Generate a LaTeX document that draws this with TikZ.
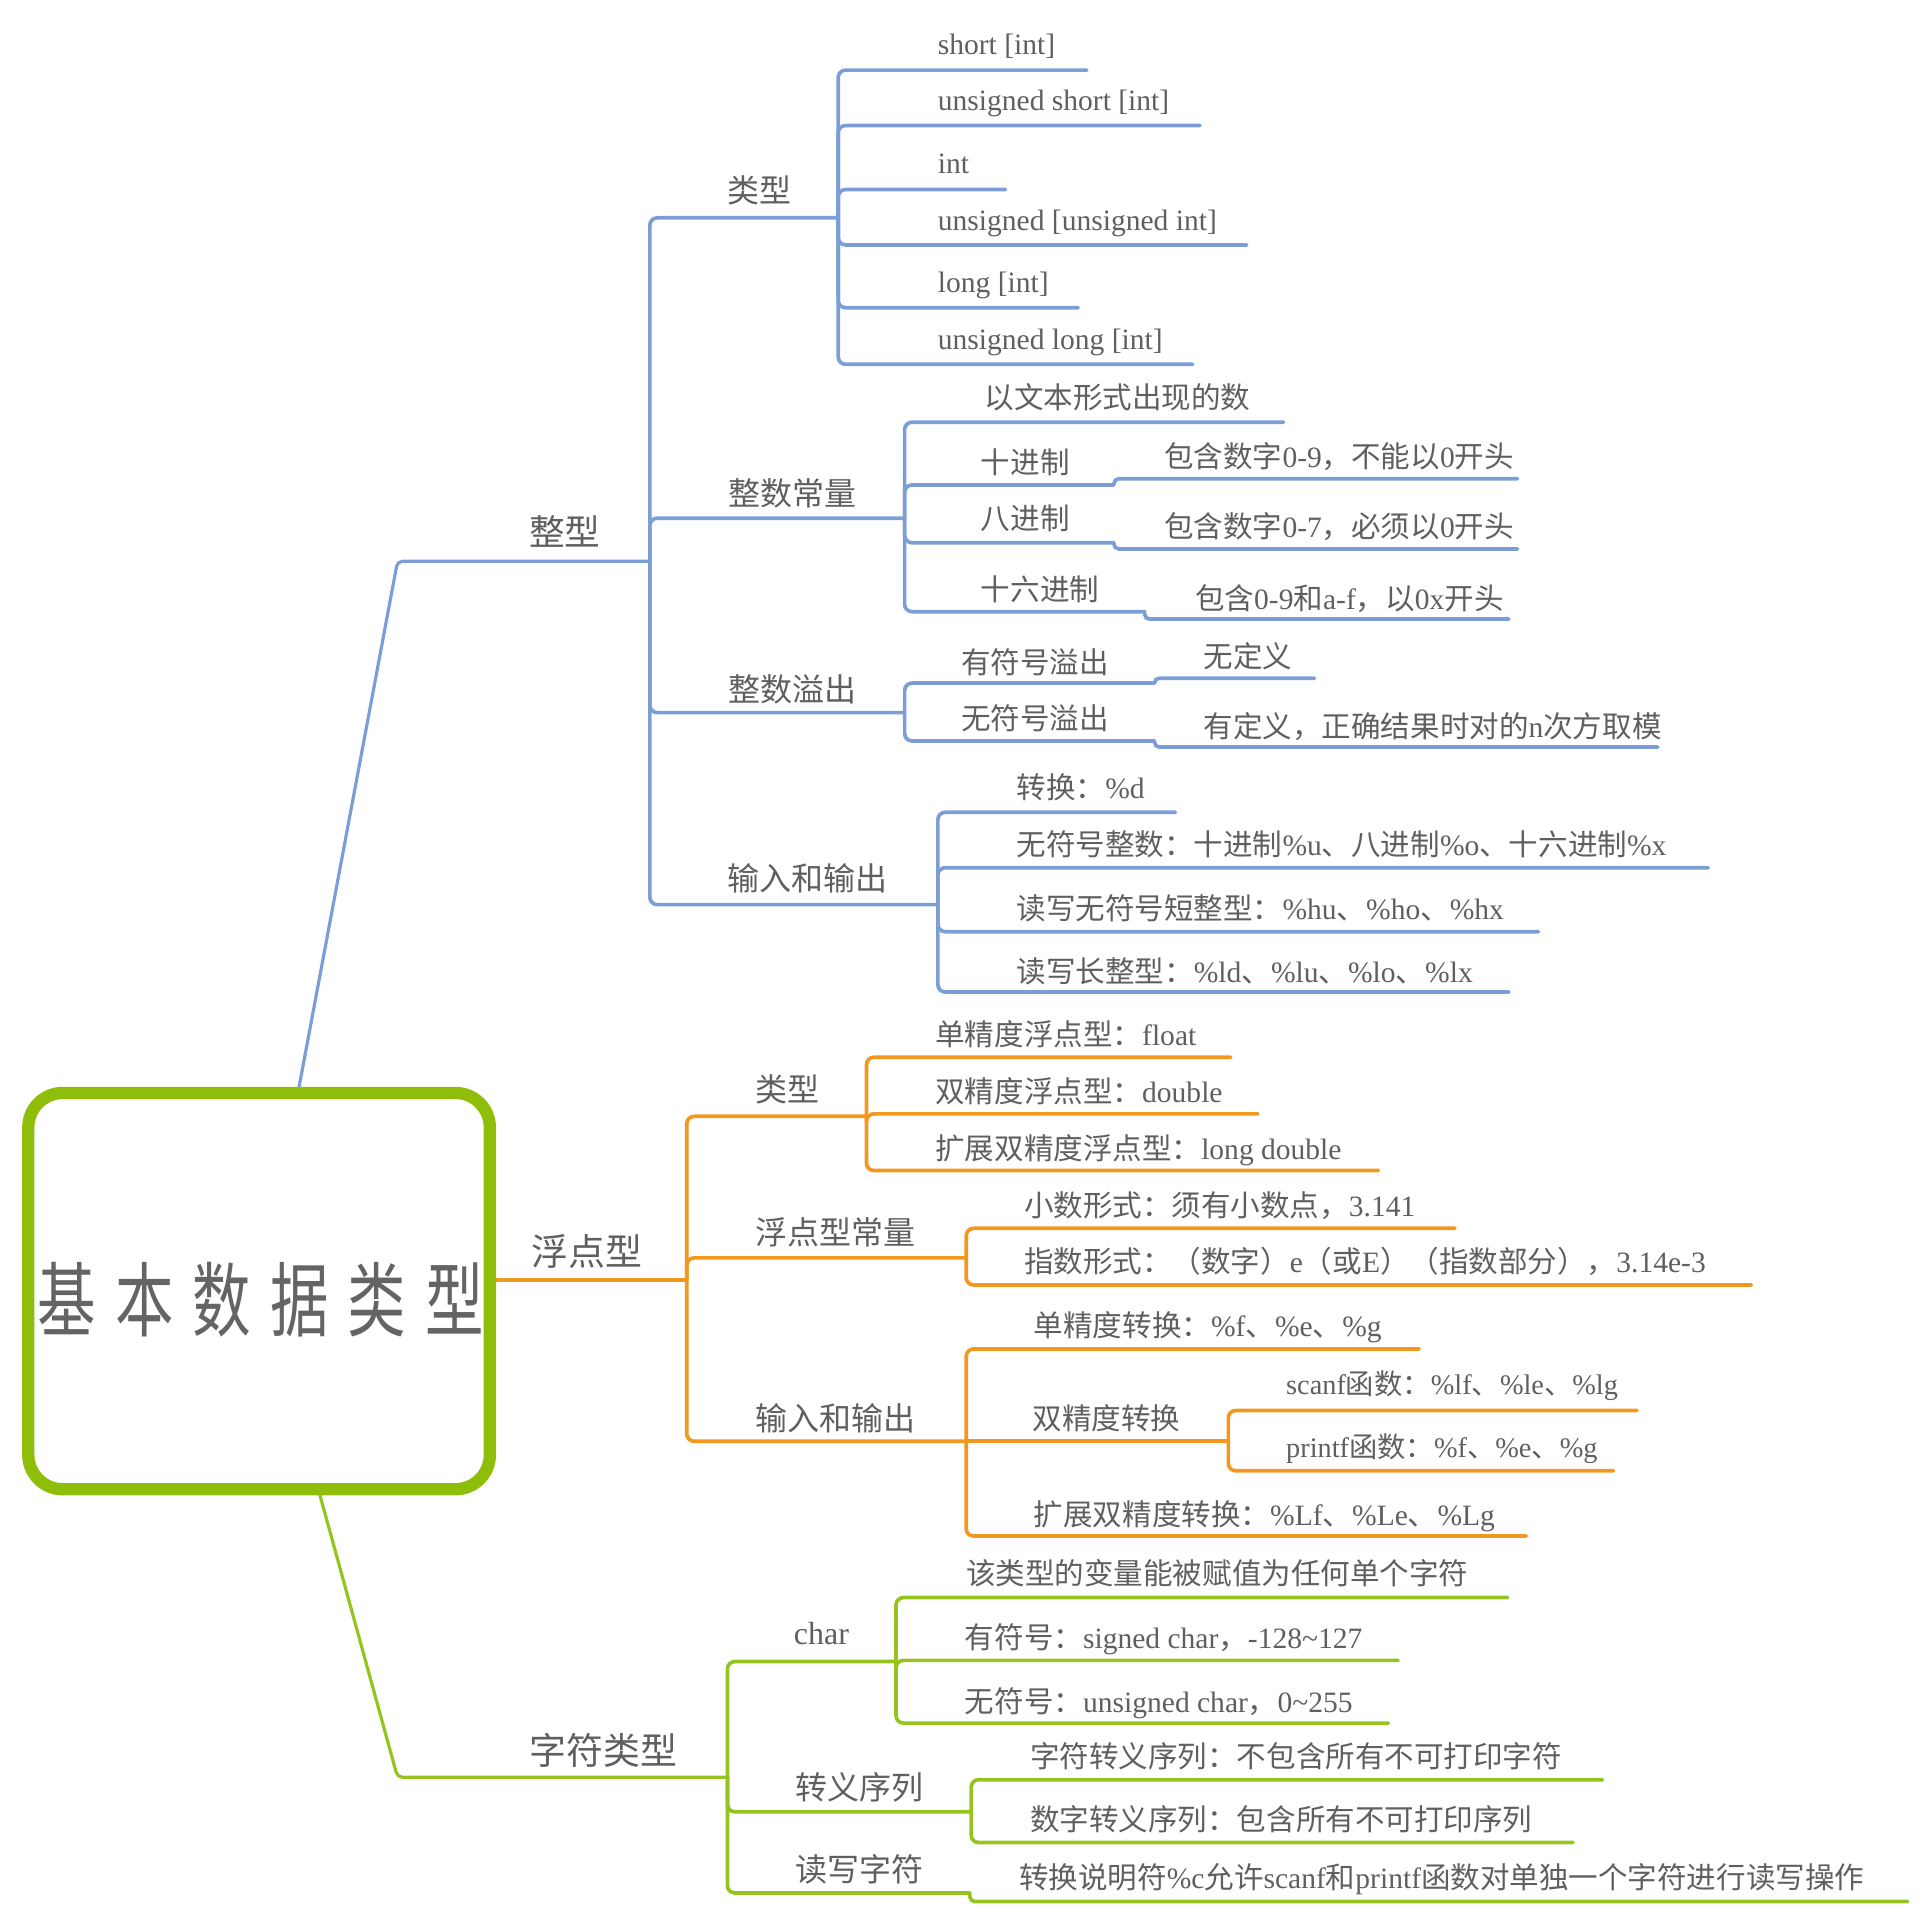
\documentclass[tikz,border=0pt]{standalone}
\usepackage{fontspec}
\setmainfont{Liberation Serif}
\newfontfamily\zhfont{Noto Sans CJK SC}
\newfontfamily\enfont{Liberation Serif}
\XeTeXinterchartokenstate=1
\newXeTeXintercharclass\CJKcls
\newcount\cjkc
\cjkc="4E00 \loop \XeTeXcharclass\cjkc=\CJKcls \advance\cjkc by 1 \ifnum\cjkc<"A000 \repeat
\cjkc="3000 \loop \XeTeXcharclass\cjkc=\CJKcls \advance\cjkc by 1 \ifnum\cjkc<"3040 \repeat
\cjkc="FF00 \loop \XeTeXcharclass\cjkc=\CJKcls \advance\cjkc by 1 \ifnum\cjkc<"FFF0 \repeat
\XeTeXinterchartoks 0 \CJKcls = {\zhfont}
\XeTeXinterchartoks \CJKcls 0 = {\enfont}
\definecolor{lblue}{RGB}{124,158,215}
\definecolor{lorange}{RGB}{243,152,30}
\definecolor{lgreen}{RGB}{150,196,30}
\definecolor{boxgreen}{RGB}{143,190,10}
\definecolor{txtgray}{RGB}{95,95,95}
\definecolor{titlegray}{RGB}{100,100,100}
\newcommand\tchar[1]{\makebox[31.5pt]{\scalebox{0.72}[1]{#1}}}
\tikzset{
  lbl/.style={anchor=west, inner sep=0pt, outer sep=0pt, text=txtgray,
    text height=10.3pt, text depth=1.2pt, font=\zhfont\fontsize{12pt}{14pt}\selectfont},
  lblen/.style={lbl, font=\enfont\fontsize{12pt}{14pt}\selectfont, text height=8.4pt, text depth=2.4pt},
  lblsm/.style={lbl, font=\enfont\fontsize{11.5pt}{14pt}\selectfont, text height=8.1pt, text depth=2.3pt},
  ltwo/.style={lbl, font=\zhfont\fontsize{13pt}{15pt}\selectfont, text height=11.2pt, text depth=1.3pt},
  ltwoen/.style={lbl, font=\enfont\fontsize{13pt}{15pt}\selectfont, text height=9.1pt, text depth=2.6pt},
  lone/.style={lbl, font=\zhfont\fontsize{15pt}{17pt}\selectfont, text height=12.9pt, text depth=1.5pt},
  conn/.style={line width=1.5pt, rounded corners=3pt, line cap=round},
  bl/.style={conn, draw=lblue},
  ol/.style={conn, draw=lorange},
  gl/.style={conn, draw=lgreen},
  rootbox/.style={draw=boxgreen, line width=5pt, rounded corners=14pt, fill=white, inner sep=0pt},
  titlestyle/.style={inner sep=0pt, text=titlegray, text height=29pt, text depth=4pt,
    font=\zhfont\fontsize{33pt}{36pt}\selectfont}
}
\begin{document}
\begin{tikzpicture}[x=0.5pt,y=-0.5pt]
\useasboundingbox (0,0) rectangle (1560,1561.6);

% ---------- attachment points and junctions ----------
\coordinate (rT) at (243,883);
\coordinate (rR) at (403,1040);
\coordinate (rB) at (260,1215);
\coordinate (kB) at (323,456);
\coordinate (kG) at (323,1444);
\coordinate (Jzx) at (528,456);
\coordinate (Jzlx) at (681,177);
\coordinate (Jzcl) at (735,421);
\coordinate (Jzyc) at (735,579);
\coordinate (Jzio) at (762,735);
\coordinate (Jfd) at (558,1040);
\coordinate (Jflx) at (704,907);
\coordinate (Jfcl) at (785,1022);
\coordinate (Jfio) at (785,1171);
\coordinate (Jsj) at (998,1171);
\coordinate (Jzf) at (591,1444);
\coordinate (Jcch) at (728,1350);
\coordinate (Jczy) at (789,1472);
\coordinate (Jcdx) at (788,1538);

% ---------- root connectors ----------
\draw[bl, line width=1.3pt, rounded corners=2pt] (rT) -- (kB) -- (Jzx);
\draw[ol] (rR) -- (Jfd);
\draw[gl, line width=1.3pt, rounded corners=2pt] (rB) -- (kG) -- (Jzf);

% ---------- root ----------
\node[rootbox, minimum width=187.5pt, minimum height=161pt] (root) at (210.5,1049) {};
\node[titlestyle] (title) at (212,1056) {\tchar{基}\tchar{本}\tchar{数}\tchar{据}\tchar{类}\tchar{型}};

% ================= 整型 =================
\node[lone, font=\zhfont\fontsize{14.5pt}{17pt}\selectfont] (zx) at (430,432) {整型};
\draw[bl] (Jzx) |- (Jzlx);
\draw[bl] (Jzx) |- (Jzcl);
\draw[bl] (Jzx) |- (Jzyc);
\draw[bl] (Jzx) |- (Jzio);

% 类型
\node[ltwo] (zlx) at (591,155) {类型};
\node[lblen] (t1) at (762,38) {short [int]};
\node[lblen] (t2) at (762,84) {unsigned short [int]};
\node[lblen] (t3) at (762,135) {int};
\node[lblen] (t4) at (762,181) {unsigned [unsigned int]};
\node[lblen] (t5) at (762,232) {long [int]};
\node[lblen] (t6) at (762,278) {unsigned long [int]};
\coordinate (t1e) at (883,57);
\coordinate (t2e) at (975,102);
\coordinate (t3e) at (817,154);
\coordinate (t4e) at (1013,199);
\coordinate (t5e) at (876,250);
\coordinate (t6e) at (969,296);
\foreach \e in {t1e,t2e,t3e,t4e,t5e,t6e} \draw[bl] (Jzlx) |- (\e);

% 整数常量
\node[ltwo] (zcl) at (592,401) {整数常量};
\node[lbl] (c1) at (800,323) {以文本形式出现的数};
\node[lbl] (c2) at (797,376) {十进制};
\node[lbl] (c3) at (797,421) {八进制};
\node[lbl] (c4) at (797,479) {十六进制};
\node[lbl] (c2a) at (946,371) {包含数字0-9，不能以0开头};
\node[lbl] (c3a) at (946,428) {包含数字0-7，必须以0开头};
\node[lbl] (c4a) at (971,486) {包含0-9和a-f，以0x开头};
\coordinate (c1e) at (1043,343);
\coordinate (c2e) at (905,394);
\coordinate (c3e) at (905,441);
\coordinate (c4e) at (930,497);
\coordinate (c2ae) at (1233,389);
\coordinate (c3ae) at (1233,446);
\coordinate (c4ae) at (1226,503);
\foreach \e in {c1e,c2e,c3e,c4e} \draw[bl] (Jzcl) |- (\e);
\draw[bl, rounded corners=2pt] (c2e) |- (c2ae);
\draw[bl, rounded corners=2pt] (c3e) |- (c3ae);
\draw[bl, rounded corners=2pt] (c4e) |- (c4ae);

% 整数溢出
\node[ltwo] (zyc) at (592,560) {整数溢出};
\node[lbl] (y1) at (781,538) {有符号溢出};
\node[lbl] (y2) at (781,584) {无符号溢出};
\node[lbl] (y1a) at (978,533) {无定义};
\node[lbl] (y2a) at (978,590) {有定义，正确结果时对的n次方取模};
\coordinate (y1e) at (938,555);
\coordinate (y2e) at (938,602);
\coordinate (y1ae) at (1068,551);
\coordinate (y2ae) at (1347,607);
\draw[bl] (Jzyc) |- (y1e);
\draw[bl] (Jzyc) |- (y2e);
\draw[bl, rounded corners=2pt] (y1e) |- (y1ae);
\draw[bl, rounded corners=2pt] (y2e) |- (y2ae);

% 输入和输出
\node[ltwo] (zio) at (591,714) {输入和输出};
\node[lbl] (i1) at (826,640) {转换：\%d};
\node[lbl] (i2) at (826,686) {无符号整数：十进制\%u、八进制\%o、十六进制\%x};
\node[lbl] (i3) at (826,738) {读写无符号短整型：\%hu、\%ho、\%hx};
\node[lbl] (i4) at (826,789) {读写长整型：\%ld、\%lu、\%lo、\%lx};
\coordinate (i1e) at (955,660);
\coordinate (i2e) at (1388,705);
\coordinate (i3e) at (1250,757);
\coordinate (i4e) at (1226,806);
\foreach \e in {i1e,i2e,i3e,i4e} \draw[bl] (Jzio) |- (\e);

% ================= 浮点型 =================
\node[lone] (fd) at (432,1017) {浮点型};
\draw[ol] (Jfd) |- (Jflx);
\draw[ol] (Jfd) |- (Jfcl);
\draw[ol] (Jfd) |- (Jfio);

\node[ltwo] (flx) at (614,885) {类型};
\node[lbl] (f1) at (760,840) {单精度浮点型：float};
\node[lbl] (f2) at (760,887) {双精度浮点型：double};
\node[lbl] (f3) at (760,933) {扩展双精度浮点型：long double};
\coordinate (f1e) at (1000,859);
\coordinate (f2e) at (1022,905);
\coordinate (f3e) at (1120,951);
\foreach \e in {f1e,f2e,f3e} \draw[ol] (Jflx) |- (\e);

\node[ltwo] (fcl) at (614,1001) {浮点型常量};
\node[lbl] (g1) at (832,979) {小数形式：须有小数点，3.141};
\node[lbl] (g2) at (832,1025) {指数形式：（数字）e（或E）（指数部分），3.14e-3};
\coordinate (g1e) at (1182,998);
\coordinate (g2e) at (1423,1044);
\draw[ol] (Jfcl) |- (g1e);
\draw[ol] (Jfcl) |- (g2e);

\node[ltwo] (fio) at (614,1152) {输入和输出};
\node[lbl] (h1) at (840,1077) {单精度转换：\%f、\%e、\%g};
\node[lbl] (h2) at (839,1152) {双精度转换};
\node[lbl] (h3) at (840,1230) {扩展双精度转换：\%Lf、\%Le、\%Lg};
\node[lblsm] (h2a) at (1045,1127) {scanf函数：\%lf、\%le、\%lg};
\node[lblsm] (h2b) at (1045,1178) {printf函数：\%f、\%e、\%g};
\coordinate (h1e) at (1153,1096);
\coordinate (h3e) at (1240,1248);
\coordinate (h2ae) at (1330,1146);
\coordinate (h2be) at (1311,1195);
\draw[ol] (Jfio) |- (h1e);
\draw[ol] (Jfio) -- (Jsj);
\draw[ol] (Jfio) |- (h3e);
\draw[ol] (Jsj) |- (h2ae);
\draw[ol] (Jsj) |- (h2be);

% ================= 字符类型 =================
\node[lone] (zf) at (430,1422) {字符类型};
\draw[gl] (Jzf) |- (Jcch);
\draw[gl] (Jzf) |- (Jczy);
\draw[gl] (Jzf) |- (Jcdx);

\node[ltwoen] (cch) at (645,1330) {char};
\node[lbl] (s1) at (785,1278) {该类型的变量能被赋值为任何单个字符};
\node[lbl] (s2) at (784,1330) {有符号：signed char，-128\textasciitilde127};
\node[lbl] (s3) at (784,1382) {无符号：unsigned char，0\textasciitilde255};
\coordinate (s1e) at (1225,1298);
\coordinate (s2e) at (1136,1349);
\coordinate (s3e) at (1128,1400);
\foreach \e in {s1e,s2e,s3e} \draw[gl] (Jcch) |- (\e);

\node[ltwo] (czy) at (646,1452) {转义序列};
\node[lbl] (e1) at (837,1427) {字符转义序列：不包含所有不可打印字符};
\node[lbl] (e2) at (837,1478) {数字转义序列：包含所有不可打印序列};
\coordinate (e1e) at (1302,1446);
\coordinate (e2e) at (1278,1497);
\draw[gl] (Jczy) |- (e1e);
\draw[gl] (Jczy) |- (e2e);

\node[ltwo] (cdx) at (646,1519) {读写字符};
\node[lbl] (d1) at (828,1525) {转换说明符\%c允许scanf和printf函数对单独一个字符进行读写操作};
\coordinate (d1e) at (1550,1545);
\draw[gl, rounded corners=2pt] (Jcdx) |- (d1e);
\end{tikzpicture}
\end{document}
